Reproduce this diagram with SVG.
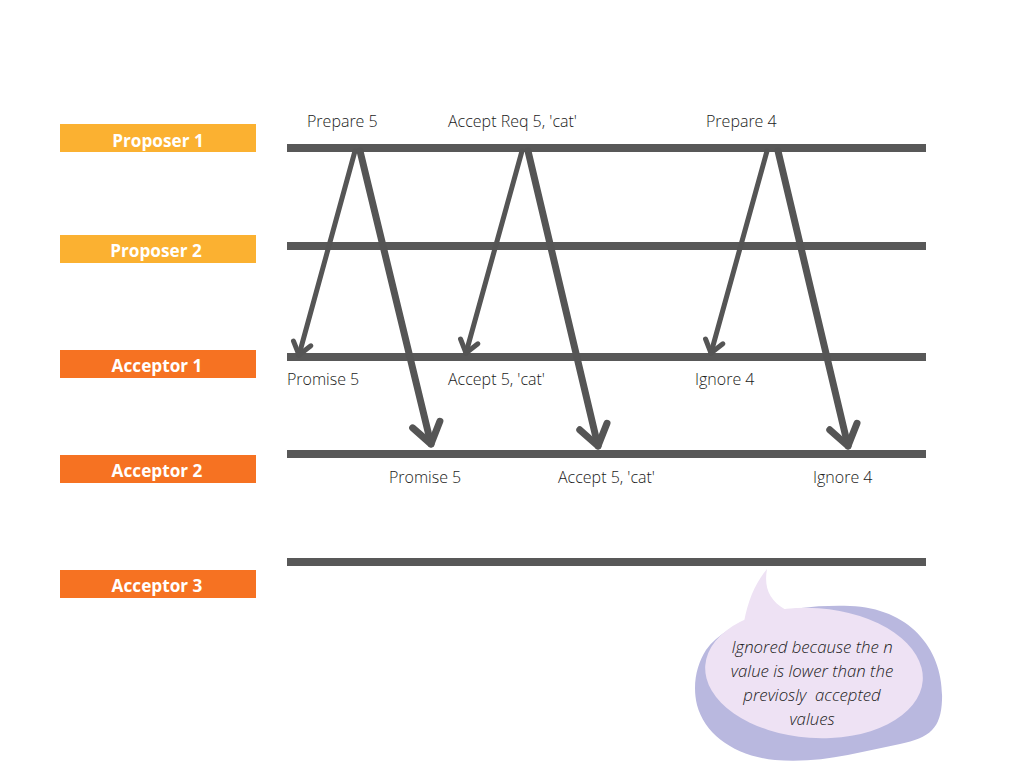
<svg xmlns="http://www.w3.org/2000/svg" width="1024" height="768" viewBox="0 0 1024 768">
  <style>
    .lane { fill: #585858; }
    .lbl { font-family: "Open Sans", "Liberation Sans", sans-serif; font-weight: 700; font-size: 17.2px; fill: #ffffff; text-anchor: middle; }
    .msg { font-family: "Open Sans", "Liberation Sans", sans-serif; font-weight: 300; font-size: 16px; fill: #1a1a1a; }
    .note { font-family: "Open Sans", "Liberation Sans", sans-serif; font-weight: 300; font-style: italic; font-size: 16.8px; fill: #1a1a1a; text-anchor: middle; white-space: pre; }
    .thin { stroke: #555555; stroke-width: 5; stroke-linecap: round; fill: none; marker-end: url(#headThin); }
    .thick { stroke: #555555; stroke-width: 7; stroke-linecap: round; fill: none; marker-end: url(#headThick); }
  </style>
  <defs>
    <marker id="headThin" markerUnits="userSpaceOnUse" orient="auto" refX="0" refY="0" markerWidth="30" markerHeight="30" style="overflow:visible">
      <path d="M-12,-9 L0,0 L-12,9" fill="none" stroke="#555555" stroke-width="5" stroke-linecap="round" stroke-linejoin="round"/>
    </marker>
    <marker id="headThick" markerUnits="userSpaceOnUse" orient="auto" refX="0" refY="0" markerWidth="40" markerHeight="40" style="overflow:visible">
      <path d="M-20,-14 L0,0 L-20,14" fill="none" stroke="#555555" stroke-width="7" stroke-linecap="round" stroke-linejoin="round"/>
    </marker>
  </defs>
  <rect width="1024" height="768" fill="#ffffff"/>

  <g id="proposer1">
    <rect x="60" y="124" width="196" height="28" fill="#FBB131"/>
    <text class="lbl" x="158" y="147">Proposer 1</text>
    <rect class="lane" x="287" y="144" width="639" height="8"/>
  </g>
  <g id="proposer2">
    <rect x="60" y="235" width="196" height="28" fill="#FBB131"/>
    <text class="lbl" x="156" y="257">Proposer 2</text>
    <rect class="lane" x="287" y="242" width="639" height="8"/>
  </g>
  <g id="acceptor1">
    <rect x="60" y="350" width="196" height="28" fill="#F67222"/>
    <text class="lbl" x="157" y="372">Acceptor 1</text>
    <rect class="lane" x="287" y="353" width="639" height="8"/>
  </g>
  <g id="acceptor2">
    <rect x="60" y="455" width="196" height="28" fill="#F67222"/>
    <text class="lbl" x="157" y="477">Acceptor 2</text>
    <rect class="lane" x="287" y="450" width="639" height="8"/>
  </g>
  <g id="acceptor3">
    <rect x="60" y="570" width="196" height="28" fill="#F67222"/>
    <text class="lbl" x="157" y="592">Acceptor 3</text>
    <rect class="lane" x="287" y="558" width="639" height="8"/>
  </g>

  <g id="connectors">
    <line class="thin" x1="355" y1="151" x2="299" y2="355"/>
    <line class="thick" x1="360" y1="151" x2="431" y2="444"/>
    <line class="thin" x1="522" y1="151" x2="466" y2="353"/>
    <line class="thick" x1="528" y1="151" x2="598" y2="446"/>
    <line class="thin" x1="767" y1="151" x2="711" y2="353"/>
    <line class="thick" x1="778" y1="151" x2="848" y2="446"/>
  </g>

  <g id="messages">
    <text class="msg" x="307" y="127">Prepare 5</text>
    <text class="msg" x="448" y="127">Accept Req 5, 'cat'</text>
    <text class="msg" x="706" y="127">Prepare 4</text>
    <text class="msg" x="287" y="385">Promise 5</text>
    <text class="msg" x="448" y="385">Accept 5, 'cat'</text>
    <text class="msg" x="695" y="385">Ignore 4</text>
    <text class="msg" x="389" y="483">Promise 5</text>
    <text class="msg" x="558" y="483">Accept 5, 'cat'</text>
    <text class="msg" x="813" y="483">Ignore 4</text>
  </g>

  <g id="note">
    <path d="M706,650 C728,618 790,604 850,606 C910,608 944,650 942,700 C941,728 930,738 900,744 C860,752 820,764 775,760 C735,756 705,735 697,705 C692,684 697,664 706,650 Z" fill="#B9B8DF"/>
    <ellipse cx="814" cy="673" rx="109" ry="65" transform="rotate(4 814 673)" fill="#EEE2F4"/>
    <path d="M744,622 C748,600 756,582 767,569 C764,586 768,600 786,610 Z" fill="#EEE2F4"/>
    <text class="note" x="812" y="653">Ignored because the n</text>
    <text class="note" x="812" y="677">value is lower than the</text>
    <text class="note" x="812" y="701" xml:space="preserve">previosly  accepted</text>
    <text class="note" x="812" y="725">values</text>
  </g>
</svg>
